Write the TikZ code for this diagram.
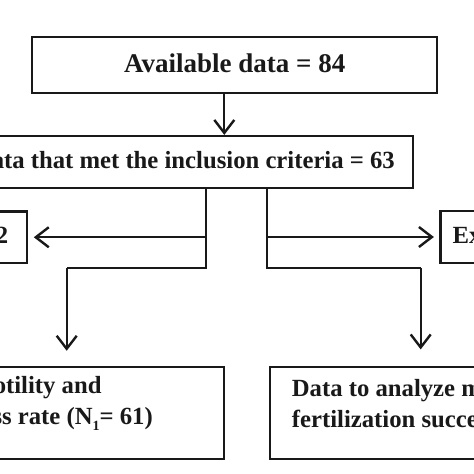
\documentclass[tikz,border=0pt]{standalone}
\usepackage{fontspec}
\setmainfont{Liberation Serif}
\usetikzlibrary{arrows.meta}
\tikzset{
  boxnode/.style={draw=black!90, line width=2.2pt, inner sep=0pt, rectangle},
  conn/.style={draw=black!90, line width=2.2pt},
  arr/.style={conn, -{Straight Barb[length=13pt,width=20pt,line width=2.4pt]}},
  txt/.style={inner sep=0pt, font=\bfseries\fontsize{24.7}{28}\selectfont, text=black!90},
  bigtxt/.style={inner sep=0pt, font=\bfseries\fontsize{27}{30}\selectfont, text=black!90}
}
\begin{document}
\begin{tikzpicture}[x=1pt,y=-1pt]
\useasboundingbox (0,0) rectangle (474,474);
\clip (0,0) rectangle (474,474);
\fill[white] (0,0) rectangle (474,474);
% boxes
\node[boxnode, minimum width=405.6pt, minimum height=55.4pt] (b1) at (234.5,65) {};
\node[boxnode, minimum width=473.3pt, minimum height=52pt] (b2) at (176.65,162) {};
\node[boxnode, minimum width=126.7pt, minimum height=51.5pt] (exl) at (-36.65,237.25) {};
\node[boxnode, minimum width=139.5pt, minimum height=52pt] (exr) at (510.25,237) {};
\node[boxnode, minimum width=374pt, minimum height=92.3pt] (bl) at (37,413) {};
\node[boxnode, minimum width=380pt, minimum height=92pt] (br) at (460,413) {};
% texts
\node[bigtxt, anchor=base] (t1) at (234.7,72) {Available data = 84};
\node[txt, anchor=base east] (t2) at (395,168) {Data that met the inclusion criteria = 63};
\node[txt, anchor=base east] (t3) at (8.5,243) {Excluded data = 2};
\node[txt, anchor=base west] (t4) at (452.5,243) {Excluded data};
\node[txt, anchor=base east] (t5) at (101.7,393) {Data to analyze sperm motility and};
\node[txt, anchor=base east] (t6) at (153,424) {fertilization success rate (N\raisebox{-6pt}{\fontsize{14}{14}\selectfont 1}= 61)};
\node[txt, anchor=base west] (t7) at (291.7,396) {Data to analyze morphology and};
\node[txt, anchor=base west] (t8) at (291.7,427) {fertilization success rate};
% connectors
\coordinate (tx) at (224.3,0);
\coordinate (lx) at (205.7,0);
\coordinate (rx) at (266.7,0);
\coordinate (lj) at (205.7,268.3);
\coordinate (lb) at (66.7,268.3);
\coordinate (rj) at (266.7,268.3);
\coordinate (rb) at (420.7,268.3);
\draw[arr] (tx |- b1.south) -- (tx |- b2.north);
\draw[conn] (lx |- b2.south) -- (lj) -- (lb);
\draw[conn] (rx |- b2.south) -- (rj) -- (rb);
\draw[arr, shorten >=6pt] (lx |- exl.east) -- (exl.east);
\draw[arr, shorten >=5.5pt] (rx |- exr.west) -- (exr.west);
\draw[arr, shorten >=15pt] (lb) -- (lb |- bl.north);
\draw[arr, shorten >=16.5pt] (rb) -- (rb |- br.north);
\end{tikzpicture}
\end{document}
